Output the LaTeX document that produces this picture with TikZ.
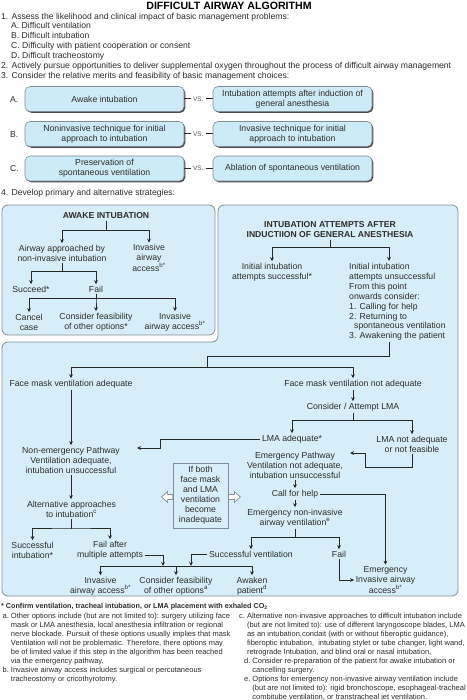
\documentclass[tikz,border=0pt]{standalone}
\usepackage{fontspec}
\setmainfont{Liberation Sans}
\usetikzlibrary{arrows.meta,calc,shadows}
\definecolor{panel}{RGB}{214,238,250}
\definecolor{boxfill}{RGB}{205,234,248}
\definecolor{edge}{RGB}{130,142,150}
\definecolor{ink}{RGB}{45,45,45}
\definecolor{wirec}{RGB}{40,40,40}
\begin{document}
\begin{tikzpicture}[x=1pt,y=-1pt,
  txt/.style={inner sep=1.5pt, align=center, text=ink, font=\fontsize{8.7}{10}\selectfont},
  hdr/.style={txt, font=\fontsize{8.6}{10}\bfseries\selectfont},
  lst/.style={anchor=base west, inner sep=0pt, text=ink, font=\fontsize{8.6}{10}\selectfont},
  fn/.style={anchor=north west, inner sep=0pt, text=ink, font=\fontsize{7.5}{9}\selectfont},
  arr/.style={draw=wirec, line width=1pt, -{Stealth[length=4pt,width=3.8pt]}},
  wire/.style={draw=wirec, line width=1pt},
  choice/.style={txt, draw=edge, fill=boxfill, rounded corners=5pt, minimum width=159pt, minimum height=25pt, line width=0.6pt, drop shadow={shadow xshift=1.3pt, shadow yshift=-1.3pt, fill=black!70, opacity=1}},
  panelst/.style={draw=edge, fill=panel, line width=0.8pt, rounded corners=6pt},
  hollow/.style={draw=edge, fill=white, line width=0.7pt},
  vs/.style={inner sep=1.5pt, text=black!55, font=\fontsize{8.6}{10}\selectfont}]
\useasboundingbox (0,0) rectangle (466,700);
\fill[white] (0,0) rectangle (466,700);

% ---------- title and list ----------
\node[inner sep=0pt, font=\fontsize{10.6}{12}\bfseries\selectfont] (title) at (229,5.5) {DIFFICULT AIRWAY ALGORITHM};
\node[lst] (l1) at (1,19.5) {1. Assess the likelihood and clinical impact of basic management problems:};
\node[lst] (l2) at (11,29) {A. Difficult ventilation};
\node[lst] (l3) at (11,39) {B. Difficult intubation};
\node[lst] (l4) at (11,49) {C. Difficulty with patient cooperation or consent};
\node[lst] (l5) at (11,58.5) {D. Difficult tracheostomy};
\node[lst] (l6) at (1,69) {2. Actively pursue opportunities to deliver supplemental oxygen throughout the process of difficult airway management};
\node[lst] (l7) at (1,79) {3. Consider the relative merits and feasibility of basic management choices:};
\node[lst] (l8) at (1,195.5) {4. Develop primary and alternative strategies:};

% ---------- choices ----------
\node[lst, anchor=west] (la) at (10,100) {A.};
\node[lst, anchor=west] (lb) at (10,135) {B.};
\node[lst, anchor=west] (lc) at (10,168.5) {C.};
\node[choice] (a1) at (104.5,99) {Awake intubation};
\node[choice] (a2) at (292.5,99) {Intubation attempts after induction of\\general anesthesia};
\node[choice] (b1) at (104.5,134) {Noninvasive technique for initial\\approach to intubation};
\node[choice] (b2) at (292.5,134) {Invasive technique for initial\\approach to intubation};
\node[choice] (c1) at (104.5,168.5) {Preservation of\\spontaneous ventilation};
\node[choice] (c2) at (292.5,168.5) {Ablation of spontaneous ventilation};
\node[vs] (vsa) at (198.5,99) {vs.};
\node[vs] (vsb) at (198.5,134) {vs.};
\node[vs] (vsc) at (198.5,168.5) {vs.};
\draw[wire] (a1.east) -- (vsa.west); \draw[wire] (vsa.east) -- (a2.west);
\draw[wire] (b1.east) -- (vsb.west); \draw[wire] (vsb.east) -- (b2.west);
\draw[wire] (c1.east) -- (vsc.west); \draw[wire] (vsc.east) -- (c2.west);

% ---------- panels ----------
\draw[panelst] (2,205) rectangle (215,335);
\draw[panelst] (218,205) -- (458,205) -- (458,596) -- (2,596) -- (2,342) -- (218,342) -- cycle;

% ---------- awake intubation ----------
\node[hdr] (awk) at (106,216) {AWAKE INTUBATION};
\node[txt] (aw1) at (62,253) {Airway approached by\\non-invasive intubation};
\node[txt] (aw2) at (149,258) {Invasive\\airway\\access\textsuperscript{b*}};
\node[txt] (suc) at (31,289) {Succeed*};
\node[txt] (fail1) at (96,289) {Fail};
\node[txt] (cancel) at (29,322) {Cancel\\case};
\node[txt] (cons1) at (96,322) {Consider feasibility\\of other options*};
\node[txt] (inv1) at (175,322) {Invasive\\airway access\textsuperscript{b*}};
\coordinate (jA) at (106,231);
\coordinate (jW) at (62,271);
\coordinate (jF) at (96,298);
\draw[arr] (awk.south) |- (jA) -| (aw1.north);
\draw[arr] (awk.south) |- (jA) -| (aw2.north);
\draw[arr] (aw1.south) |- (jW) -| (suc.north);
\draw[arr] (aw1.south) |- (jW) -| (fail1.north);
\draw[arr] (fail1.south) |- (jF) -| (cancel.north);
\draw[arr] (fail1.south) |- (jF) -| (cons1.north);
\draw[arr] (fail1.south) |- (jF) -| (inv1.north);

% ---------- intubation attempts after induction ----------
\node[hdr] (ind) at (330,230) {INTUBATION ATTEMPTS AFTER\\INDUCTIION OF GENERAL ANESTHESIA};
\node[txt] (ok1) at (272,272) {Initial intubation\\attempts successful*};
\node[txt, align=left, inner sep=0pt, anchor=north west, font=\fontsize{8.7}{9.9}\selectfont] (nok1) at (349,263) {Initial intubation\\attempts unsuccessful\\From this point\\onwards consider:\\1. Calling for help\\2. Returning to\\\hspace*{5pt}spontaneous ventilation\\3. Awakening the patient};
\coordinate (jI) at (330,248);
\draw[arr] (ind.south) |- (jI) -| (ok1.north);
\draw[arr] (ind.south) |- (jI) -| ($(nok1.north west)+(40,-2)$);

\node[txt] (fm1) at (71,384) {Face mask ventilation adequate};
\node[txt] (fm2) at (353,384) {Face mask ventilation not adequate};
\coordinate (k1) at (207,356);
\coordinate (jM) at (207,367);
\draw[wire] ($(nok1.south west)+(40,1)$) |- (k1) -- (jM);
\draw[arr] (jM) -| (fm1.north);
\draw[arr] (jM) -| (fm2.north);

\node[txt] (nonem) at (71,460) {Non-emergency Pathway\\Ventilation adequate,\\intubation unsuccessful};
\node[txt] (lma) at (353,407) {Consider / Attempt LMA};
\node[txt] (lmaok) at (292,439) {LMA adequate*};
\node[txt] (lmano) at (412,444) {LMA not adequate\\or not feasible};
\draw[arr] (fm1.south) -- (nonem.north);
\draw[arr] (fm2.south) -- (lma.north);
\coordinate (jL) at (353,420);
\draw[arr] (lma.south) |- (jL) -| (lmaok.north);
\draw[arr] (lma.south) |- (jL) -| (lmano.north);
\coordinate (t1) at (137,448);
\draw[arr] (lmaok.west) -| ($(t1)+(23,0)$) -- (t1);

\node[txt] (emp) at (295,465) {Emergency Pathway\\Ventilation not adequate,\\intubation unsuccessful};
\coordinate (t2) at (350,453);
\draw[arr] (lmano.south) |- ($(t2)+(15,14)$) |- (t2);
\node[txt] (cfh) at (295,494) {Call for help};
\node[txt] (eniv) at (295,518) {Emergency non-invasive\\airway ventilation\textsuperscript{e}};
\node[txt] (eia) at (385.5,580) {Emergency\\Invasive airway\\access\textsuperscript{b*}};
\draw[arr] (emp.south) -- (cfh.north);
\draw[arr] (cfh.south) -- (eniv.north);
\draw[arr] (cfh.east) -| (eia.north);
\node[txt] (sv) at (251,554) {Successful ventilation};
\node[txt] (fail2) at (339,554) {Fail};
\coordinate (jE) at (295,537);
\draw[arr] (eniv.south) |- (jE) -| (sv.north);
\draw[arr] (eniv.south) |- (jE) -| (fail2.north);
\draw[arr] (fail2.south) |- (eia.west);

\node[txt] (alt) at (71.5,509) {Alternative approaches\\to intubation\textsuperscript{c}};
\node[txt] (sint) at (32.5,550) {Successful\\intubation*};
\node[txt] (fam) at (110,550) {Fail after\\multiple attempts};
\draw[arr] (nonem.south) -- (nonem.south |- alt.north);
\coordinate (jT) at (71,528);
\draw[arr] (alt.south) |- (jT) -| (sint.north);
\draw[arr] (alt.south) |- (jT) -| (fam.north);

\node[txt] (inv2) at (100.5,586) {Invasive\\airway access\textsuperscript{b*}};
\node[txt] (cons2) at (176,586) {Consider feasibility\\of other options\textsuperscript{a}};
\node[txt] (awk2) at (252,586) {Awaken\\patient\textsuperscript{d}};
\coordinate (jB) at (176,566);
\draw[arr] (jB) -| (inv2.north);
\draw[arr] (jB) -- (cons2.north);
\draw[arr] (jB) -| (awk2.north);
\coordinate (b1) at (163,566);
\coordinate (b2) at (191,566);
\draw[arr] ([yshift=-5pt]fam.east) -| (b1);
\draw[arr] (sv.west) -| (b2);

\node[txt, draw=edge, fill=panel, line width=0.8pt, minimum width=55pt, minimum height=65pt] (ifb) at (200.5,495.5) {If both\\face mask\\and LMA\\ventilation\\become\\inadequate};
\draw[hollow] ($(ifb.west)+(-11,1.5)$) -- ++(6,-5.5) -- ++(0,3) -- ++(5,0) -- ++(0,5) -- ++(-5,0) -- ++(0,3) -- cycle;
\draw[hollow] ($(ifb.east)+(12,1.5)$) -- ++(-6,-5.5) -- ++(0,3) -- ++(-6,0) -- ++(0,5) -- ++(6,0) -- ++(0,3) -- cycle;

% ---------- footnotes ----------
\node[lst, font=\fontsize{7.2}{9}\bfseries\selectfont] (fstar) at (1,608) {* Confirm ventilation, tracheal intubation, or LMA placement with exhaled CO\textsubscript{2}};
\node[fn] (fna) at (2.5,611.7) {\begin{tabular}{@{}l@{\hspace{2pt}}l@{}}
a. & Other options include (but are not limited to): surgery utilizing face\\
 & mask or LMA anesthesia, local anesthesia infiltration or regional\\
 & nerve blockade. Pursuit of these options usually implies that mask\\
 & Ventilation will not be problematic. Therefore, there options may\\
 & be of limited value if this step in the algorithm has been reached\\
 & via the emergency pathway.\\
b. & Invasive airway access includes surgical or percutaneous\\
 & tracheostomy or cricothyrotomy.
\end{tabular}};
\node[fn] (fnc) at (239,611.7) {\begin{tabular}{@{}l@{\hspace{2pt}}l@{}}
c. & Alternative non-invasive approaches to difficult intubation include\\
 & (but are not limited to): use of different laryngoscope blades, LMA\\
 & as an intubation,condait (with or without fiberoptic guidance),\\
 & fiberoptic intubation,\ \ intubating stylet or tube changer, light wand,\\
 & retrograde Intubation, and blind oral or nasal intubation,
\end{tabular}};
\node[fn] (fnd) at (244,656.7) {\begin{tabular}{@{}l@{\hspace{2pt}}l@{}}
d. & Consider re-preparation of the patient for awake intubation or\\
 & cancelling surgery.\\
e. & Options for emergency non-invasive airway ventilation include\\
 & (but are not limited to): rigid bronchoscope, esophageal-tracheal\\
 & combitube ventilation, or transtracheal jet ventilation.
\end{tabular}};
\end{tikzpicture}
\end{document}
